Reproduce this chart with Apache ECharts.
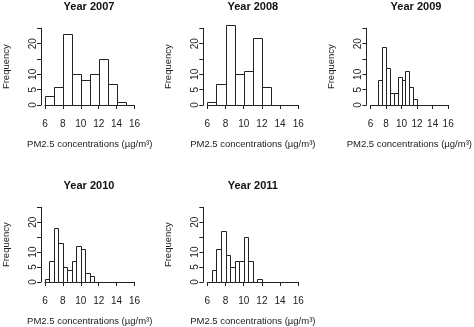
<!DOCTYPE html>
<html>
<head>
<meta charset="utf-8">
<script src="https://cdn.jsdelivr.net/npm/echarts@6/dist/echarts.min.js"></script>
<style>
html,body{margin:0;padding:0;background:#fff;}
#chart{width:474px;height:327px;}
</style>
</head>
<body>
<div id="chart"></div>
<script>
// ---- data (histogram bins) ----
const years = ['Year 2007', 'Year 2008', 'Year 2009', 'Year 2010', 'Year 2011'];
const binStart = [6, 6, 7, 6, 6.5];
const binWidth = [1, 1, 0.5, 0.5, 0.5];
const counts2007 = [3, 6, 23, 10, 8, 10, 15, 7, 1];
const counts2008 = [1, 7, 26, 10, 11, 22, 6];
const counts2009 = [8, 19, 12, 4, 4, 9, 8, 11, 6, 2];
const counts2010 = [1, 7, 18, 13, 5, 4, 7, 12, 11, 3, 2];
const counts2011 = [4, 11, 17, 9, 5, 7, 7, 15, 7, 0, 1];
const xTicks = [6, 8, 10, 12, 14, 16];
const yLabelValues = [0, 5, 10, 20];
const yTickValues = [0, 5, 10, 15, 20, 25];
const xName = 'PM2.5 concentrations (µg/m³)';
const yName = 'Frequency';

const allCounts = [counts2007, counts2008, counts2009, counts2010, counts2011];

// ---- layout ----
const colX = [43.5, 207.3, 370.5];   // pixel of x = 6
const rowY0 = [105, 284];            // pixel of y = 0
const plotW = 91, plotH = 76.7;
const panelPos = [[0,0],[1,0],[2,0],[0,1],[1,1]];

const ink = '#222';
const font = 'Liberation Sans, Arial, sans-serif';
const grids = [], xAxes = [], yAxes = [], series = [], graphics = [];

allCounts.forEach((cnts, i) => {
  const [c, r] = panelPos[i];
  grids.push({ left: colX[c], top: rowY0[r] - plotH, width: plotW, height: plotH, containLabel: false });
  xAxes.push({
    gridIndex: i, type: 'value', min: 6, max: 16, interval: 2,
    offset: 4,
    axisLine: { show: true, lineStyle: { color: ink, width: 1 } },
    axisTick: { show: true, length: 4, lineStyle: { color: ink }, customValues: xTicks },
    axisLabel: { color: ink, fontSize: 10, margin: 10, fontFamily: font, customValues: xTicks },
    splitLine: { show: false },
    name: xName, nameLocation: 'middle', nameGap: 30,
    nameTextStyle: { color: ink, fontSize: 9.5, fontFamily: font }
  });
  yAxes.push({
    gridIndex: i, type: 'value', min: 0, max: 25, interval: 5,
    offset: 4,
    axisLine: { show: true, lineStyle: { color: ink, width: 1 } },
    axisTick: { show: true, length: 4, lineStyle: { color: ink }, customValues: yTickValues },
    axisLabel: { color: ink, fontSize: 10, rotate: 90, margin: 3, fontFamily: font, customValues: yLabelValues },
    splitLine: { show: false },
    name: yName, nameLocation: 'middle', nameGap: 30, nameRotate: 90,
    nameTextStyle: { color: ink, fontSize: 9.5, fontFamily: font }
  });
  const data = cnts.map((v, k) => [binStart[i] + k * binWidth[i], binStart[i] + (k + 1) * binWidth[i], v]);
  series.push({
    type: 'custom', xAxisIndex: i, yAxisIndex: i, clip: false,
    data: data,
    renderItem: (params, api) => {
      const p0 = api.coord([api.value(0), api.value(2)]);
      const p1 = api.coord([api.value(1), 0]);
      const x0 = Math.round(p0[0]) + 0.5, x1 = Math.round(p1[0]) + 0.5;
      const y0 = Math.round(p0[1]) + 0.5, y1 = Math.round(p1[1]) + 0.5;
      return {
        type: 'rect',
        shape: { x: x0, y: y0, width: x1 - x0, height: y1 - y0 },
        style: { fill: '#fff', stroke: ink, lineWidth: 1 }
      };
    }
  });
  graphics.push({
    type: 'text', x: colX[c] + plotW / 2, y: rowY0[r] - 98,
    style: { text: years[i], fill: '#111', font: 'bold 11px ' + font, textAlign: 'center', textVerticalAlign: 'middle' }
  });
});

const chart = echarts.init(document.getElementById('chart'), null, { renderer: 'canvas' });
chart.setOption({
  animation: false,
  backgroundColor: '#fff',
  grid: grids, xAxis: xAxes, yAxis: yAxes, series: series,
  graphic: graphics
});
</script>
</body>
</html>
